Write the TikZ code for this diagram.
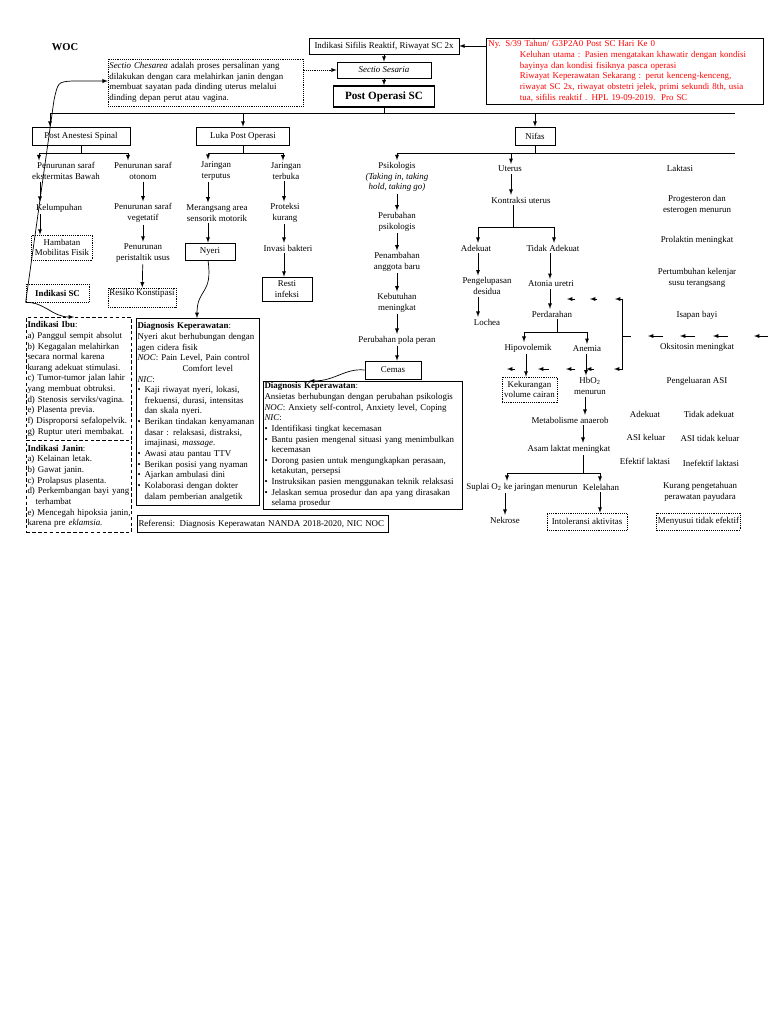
\documentclass[tikz,border=0pt]{standalone}
\usepackage{fontspec}
\setmainfont{Liberation Serif}
\usepackage{xcolor}
\usepackage{tikz}
\newcommand{\wocbul}{\makebox[6pt][l]{\textbullet}}
\newcommand{\wocind}{\hspace*{6pt}}

\begin{document}
\begin{tikzpicture}[x=0.03cm,y=-0.03cm,>=latex,semithick,
	font=\fontsize{7.6}{9.1}\selectfont,
	every node/.style={inner sep=1.5pt},
	box/.style={draw,inner sep=1pt},
	dotbox/.style={draw,densely dotted,inner sep=1pt},
	dashbox/.style={draw,densely dashed,inner sep=1pt}]
	\useasboundingbox (0,0) rectangle (768,1024);

	% bagian atas
	\node at (65,47) (0) {\fontsize{9}{11}\selectfont\bfseries WOC};
	\node[box,minimum width=4.5cm,minimum height=0.48cm] at (384,46) (1) {Indikasi Sifilis Reaktif, Riwayat SC 2x};
	\node[draw,text=red,text width=8.2cm,minimum height=1.98cm,align=left] at (625,71) (2) {Ny. S/39 Tahun/ G3P2A0 Post SC Hari Ke 0\\
		\hspace*{0.95cm}Keluhan utama : Pasien mengatakan khawatir dengan kondisi\\
		\hspace*{0.95cm}bayinya dan kondisi fisiknya pasca operasi\\
		\hspace*{0.95cm}Riwayat Keperawatan Sekarang : perut kenceng-kenceng,\\
		\hspace*{0.95cm}riwayat SC 2x, riwayat obstetri jelek, primi sekundi 8th, usia\\
		\hspace*{0.95cm}tua, sifilis reaktif . HPL 19-09-2019.\ \ Pro SC};
	\node[box,minimum width=2.82cm,minimum height=0.48cm] at (384,70) (3) {\textit{Sectio Sesaria}};
	\node[draw,line width=1.2pt,minimum width=3.03cm,minimum height=0.63cm] at (384,96.5) (4) {\fontsize{9.5}{11}\selectfont\bfseries Post Operasi SC};
	\node[dotbox,text width=5.8cm,minimum height=1.41cm,align=left] at (206,82.5) (5) {\textit{Sectio Chesarea} adalah proses persalinan yang\\dilakukan dengan cara melahirkan janin dengan\\membuat sayatan pada dinding uterus melalui\\dinding depan perut atau vagina.};

	% tingkat 1
	\node[box,minimum width=2.94cm,minimum height=0.54cm] at (81,136) (6) {Post Anestesi Spinal};
	\node[box,minimum width=2.79cm,minimum height=0.54cm] at (243,136) (7) {Luka Post Operasi};
	\node[box,minimum width=1.2cm,minimum height=0.54cm] at (535,136) (8) {Nifas};

	% tingkat 2
	\node[align=center] at (66,171) (9) {Penurunan saraf\\ekstermitas Bawah};
	\node[align=center] at (143,171) (10) {Penurunan saraf\\otonom};
	\node[align=center] at (216,171) (11) {Jaringan\\terputus};
	\node[align=center] at (286,171) (12) {Jaringan\\terbuka};
	\node[align=center] at (397,177) (13) {Psikologis\\\textit{(Taking in, taking}\\\textit{hold, taking go)}};
	\node at (510,169) (14) {Uterus};
	\node at (680,168) (15) {Laktasi};

	% post anestesi
	\node at (59,208) (16) {Kelumpuhan};
	\node[dotbox,align=center,minimum width=1.83cm,minimum height=0.75cm] at (62,247.5) (17) {Hambatan\\Mobilitas Fisik};
	\node[dotbox,minimum width=1.89cm,minimum height=0.54cm] at (57.5,293) (18) {\bfseries Indikasi SC};
	\node[align=center] at (143,213) (19) {Penurunan saraf\\vegetatif};
	\node[align=center] at (143,253) (20) {Penurunan\\peristaltik usus};
	\node[dotbox,align=center,minimum width=2.04cm] at (142,297.5) (21) {Resiko Konstipasi\\~};

	% luka post operasi
	\node[align=center] at (217,213) (22) {Merangsang area\\sensorik motorik};
	\node[box,minimum width=1.5cm,minimum height=0.51cm] at (210,251.5) (23) {Nyeri};
	\node[align=center] at (285,213) (24) {Proteksi\\kurang};
	\node at (288,248) (25) {Invasi bakteri};
	\node[box,align=center,minimum width=1.5cm,minimum height=0.72cm] at (287,289) (26) {Resti\\infeksi};

	% psikologis
	\node[align=center] at (397,222) (27) {Perubahan\\psikologis};
	\node[align=center] at (397,262) (28) {Penambahan\\anggota baru};
	\node[align=center] at (397,303) (29) {Kebutuhan\\meningkat};
	\node at (397,340) (30) {Perubahan pola peran};
	\node[box,minimum width=1.68cm,minimum height=0.54cm] at (393,370) (31) {Cemas};

	% uterus
	\node at (521,200) (32) {Kontraksi uterus};
	\node at (476,248) (33) {Adekuat};
	\node at (553,248) (34) {Tidak Adekuat};
	\node[align=center] at (487,286) (35) {Pengelupasan\\desidua};
	\node at (487,322) (36) {Lochea};
	\node at (551,284) (37) {Atonia uretri};
	\node at (552,314) (38) {Perdarahan};
	\node at (528,348) (39) {Hipovolemik};
	\node at (587,349) (40) {Anemia};
	\node[dotbox,align=center,minimum width=1.65cm,minimum height=0.75cm] at (529.5,389.5) (41) {Kekurangan\\volume cairan};
	\node[align=center] at (590,386) (42) {HbO\textsubscript{2}\\menurun};
	\node at (570,420) (43) {Metabolisme anaerob};
	\node at (569,449) (44) {Asam laktat meningkat};
	\node at (522,487) (45) {Suplai O\textsubscript{2} ke jaringan menurun};
	\node at (601,487) (46) {Kelelahan};
	\node at (505,520) (47) {Nekrose};
	\node[dotbox,minimum width=2.4cm,minimum height=0.51cm] at (587,521.5) (48) {Intoleransi aktivitas};

	% laktasi
	\node[align=center] at (697,205) (49) {Progesteron dan\\esterogen menurun};
	\node at (697,240) (50) {Prolaktin meningkat};
	\node[align=center] at (697,278) (51) {Pertumbuhan kelenjar\\susu terangsang};
	\node at (697,315) (52) {Isapan bayi};
	\node at (697,347) (53) {Oksitosin meningkat};
	\node at (697,381) (54) {Pengeluaran ASI};
	\node at (645,414) (55) {Adekuat};
	\node at (709,414) (56) {Tidak adekuat};
	\node at (646,437) (57) {ASI keluar};
	\node at (710,438) (58) {ASI tidak keluar};
	\node at (645,461) (59) {Efektif laktasi};
	\node at (711,463) (60) {Inefektif laktasi};
	\node[align=center] at (700,492) (61) {Kurang pengetahuan\\perawatan payudara};
	\node[dotbox,minimum width=2.49cm,minimum height=0.51cm] at (698.5,521.5) (62) {Menyusui tidak efektif};

	% indikasi dan diagnosis
	\node[dashbox,anchor=north west,text width=3.08cm,minimum height=3.69cm,align=left] at (26,317) (63) {\textbf{Indikasi Ibu}:\\
		a) Panggul sempit absolut\\
		b) Kegagalan melahirkan\\
		secara normal karena\\
		kurang adekuat stimulasi.\\
		c) Tumor-tumor jalan lahir\\
		yang membuat obtruksi.\\
		d) Stenosis serviks/vagina.\\
		e) Plasenta previa.\\
		f) Disproporsi sefalopelvik.\\
		g) Ruptur uteri membakat.};
	\node[dashbox,anchor=north west,text width=3.08cm,minimum height=2.76cm,align=left] at (26,440) (64) {\textbf{Indikasi Janin}:\\
		a) Kelainan letak.\\
		b) Gawat janin.\\
		c) Prolapsus plasenta.\\
		d) Perkembangan bayi yang\\
		\hspace*{7pt}terhambat\\
		\mbox{e) Mencegah hipoksia janin,}\\
		karena pre \textit{eklamsia}.};
	\node[box,anchor=north west,text width=3.62cm,minimum height=5.61cm,align=left] at (136,318) (65) {\textbf{Diagnosis Keperawatan}:\\
		Nyeri akut berhubungan dengan\\
		agen cidera fisik\\
		\textit{NOC}: Pain Level, Pain control\\
		\hspace*{1.35cm}Comfort level\\
		\textit{NIC}:\\
		\wocbul Kaji riwayat nyeri, lokasi,\\
		\wocind frekuensi, durasi, intensitas\\
		\wocind dan skala nyeri.\\
		\wocbul Berikan tindakan kenyamanan\\
		\wocind dasar : relaksasi, distraksi,\\
		\wocind imajinasi, \textit{massage}.\\
		\wocbul Awasi atau pantau TTV\\
		\wocbul Berikan posisi yang nyaman\\
		\wocbul Ajarkan ambulasi dini\\
		\wocbul Kolaborasi dengan dokter\\
		\wocind dalam pemberian analgetik};
	\node[box,anchor=north west,text width=5.9cm,align=left] at (263,381) (66) {\textbf{Diagnosis Keperawatan}:\\
		Ansietas berhubungan dengan perubahan psikologis\\
		\textit{NOC}: Anxiety self-control, Anxiety level, Coping\\
		\textit{NIC}:\\
		\wocbul Identifikasi tingkat kecemasan\\
		\wocbul Bantu pasien mengenal situasi yang menimbulkan\\
		\wocind kecemasan\\
		\wocbul Dorong pasien untuk mengungkapkan perasaan,\\
		\wocind ketakutan, persepsi\\
		\wocbul Instruksikan pasien menggunakan teknik relaksasi\\
		\wocbul Jelaskan semua prosedur dan apa yang dirasakan\\
		\wocind selama prosedur};
	\node[box,anchor=north west,text width=7.46cm,minimum height=0.51cm,align=left] at (137,515) (67) {Referensi: Diagnosis Keperawatan NANDA 2018-2020, NIC NOC};

	% garis utama
	\coordinate (e1) at (735,0);
	\draw[->] (2.west |- 1.east) -- (1.east);
	\draw[->] (1) -- (3);
	\draw[->,densely dotted] (5.east |- 3.west) -- (3.west);
	\draw[->] (3) -- (4);
	\draw (4.south) -- ++(0,6) coordinate (m1) -- (m1 -| e1);
	\draw[->] (4.south) -- ++(0,6) -| (6.north -| 50,0);
	\draw[->] (4.south) -- ++(0,6) -| (7);
	\draw[->] (4.south) -- ++(0,6) -| (8);
	\draw (8.south) -- ++(0,8) coordinate (m2) -- (m2 -| e1);
	\draw[->] (8.south) -- ++(0,8) -| (13);
	\draw[->] (8.south) -- ++(0,8) -| (14.north -| 511,0);
	\draw[->] (6.south) -- ++(0,8) -| (9.north -| 39,0);
	\draw[->] (6.south) -- ++(0,8) -| (10.north -| 128,0);
	\draw[->] (7.south) -- ++(0,8) -| (11.north -| 208,0);
	\draw[->] (7.south) -- ++(0,8) -| (12.north -| 283,0);

	% post anestesi
	\draw[->] (9.south -| 40,0) -- (16.north -| 40,0);
	\draw[->] (16.south -| 40,0) -- (17.north -| 40,0);
	\draw[->] (10) -- (19);
	\draw[->] (19) -- (20);
	\draw[->] (20) -- (21);
	\draw[->] (18.south west) -- (54,100) .. controls (58,82) .. (72,81) -- (5.west |- 0,81);
	\draw[->] (18.south west) .. controls (45,302) and (52,317) .. (63.north -| 74,0);

	% luka post operasi
	\draw[->] (11.south -| 208,0) -- (22.north -| 208,0);
	\draw[->] (22.south -| 208,0) -- (23.north -| 208,0);
	\draw[->] (23.south -| 208,0) .. controls (213,295) and (197,288) .. (65.north -| 197,0);
	\draw[->] (12.south -| 284,0) -- (24.north -| 284,0);
	\draw[->] (24.south -| 284,0) -- (25.north -| 284,0);
	\draw[->] (25.south -| 284,0) -- (26.north -| 284,0);

	% psikologis
	\draw[->] (13) -- (27);
	\draw[->] (27) -- (28);
	\draw[->] (28) -- (29);
	\draw[->] (29) -- (30);
	\draw[->] (30.south -| 397,0) -- (31.north -| 397,0);
	\draw[->] (31.west) .. controls (345,368) and (335,381) .. (66.north -| 309,0);

	% uterus
	\draw[->] (14.south -| 511,0) -- (32.north -| 511,0);
	\draw[->] (32.south -| 513,0) -- ++(0,22) -| (33.north -| 478,0);
	\draw[->] (32.south -| 513,0) -- ++(0,22) -| (34.north -| 554,0);
	\draw[->] (33.south -| 478,0) -- (35.north -| 478,0);
	\draw[->] (35.south -| 478,0) -- (36.north -| 478,0);
	\draw[->] (34.south -| 550,0) -- (37.north -| 550,0);
	\draw[->] (37.south -| 550,0) -- (38.north -| 550,0);
	\draw[->] (38.south -| 557,0) -- ++(0,13) -| (39.north -| 524,0);
	\draw[->] (38.south -| 557,0) -- ++(0,13) -| (40.north -| 587,0);
	\draw[->] (39.south -| 526,0) -- (41.north -| 526,0);
	\draw[->] (40.south -| 586,0) -- (42.north -| 586,0);
	\draw[->] (42.south -| 585,0) -- (43.north -| 585,0);
	\draw[->] (43.south -| 583,0) -- (44.north -| 583,0);
	\draw[->] (44.south -| 583,0) -- ++(0,18) -| (45.north -| 507,0);
	\draw[->] (44.south -| 583,0) -- ++(0,18) -| (46.north -| 600,0);
	\draw[->] (45.south -| 505,0) -- (47.north -| 505,0);
	\draw[->] (46.south -| 600,0) -- (48.north -| 600,0);

	% panah kecil
	\draw[->] (575,299) -- (567,299);
	\draw[->] (597,299) -- (590,299);
	\draw[<->] (615,299) -- (622,299) -- (622,369) -- (614,369);
	\draw (622,336) -- (631,336);
	\draw[->] (663,336) -- (648,336);
	\draw[->] (695,336) -- (680,336);
	\draw[->] (728,336) -- (713,336);
	\draw[->] (768,336) -- (754,336);
	\draw[->] (515,369) -- (507,369);
	\draw[->] (549,369) -- (538,369);
	\draw[->] (575,369) -- (566,369);
	\draw[->] (594,369) -- (586,369);
\end{tikzpicture}
\end{document}
